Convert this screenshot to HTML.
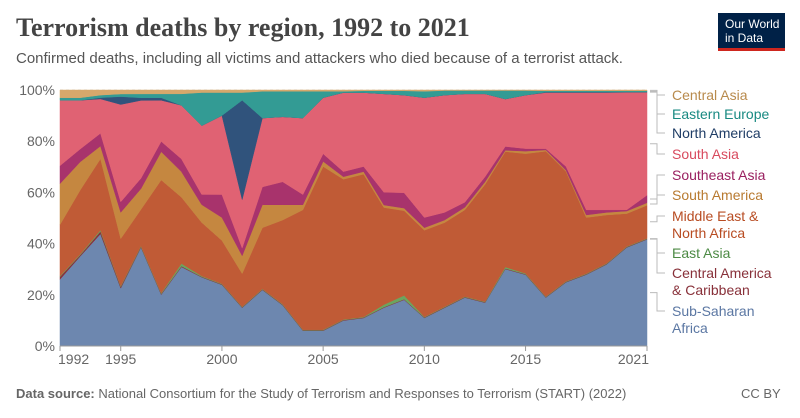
<!DOCTYPE html>
<html><head><meta charset="utf-8"><style>
body{margin:0;background:#fff;font-family:"Liberation Sans",sans-serif;}
#wrap{position:relative;width:800px;height:418px;overflow:hidden;}
.t{position:absolute;white-space:nowrap;}
</style></head><body>
<div id="wrap">
<div class="t" style="left:16px;top:13px;font-family:'Liberation Serif',serif;font-size:26px;font-weight:bold;color:#444;">Terrorism deaths by region, 1992 to 2021</div>
<div class="t" style="left:16px;top:50px;font-size:15px;color:#555;">Confirmed deaths, including all victims and attackers who died because of a terrorist attack.</div>
<div style="position:absolute;left:718px;top:13px;width:67px;height:38px;background:#002147;border-bottom:3px solid #ce261e;box-sizing:border-box;color:#fff;font-size:12px;line-height:14px;padding:4px 0 0 7px;">Our World<br>in Data</div>
<svg id="chart" width="800" height="418" style="position:absolute;left:0;top:0;"></svg>
<div class="t" style="left:16px;top:386px;font-size:13px;color:#666;"><b>Data source:</b> National Consortium for the Study of Terrorism and Responses to Terrorism (START) (2022)</div>
<div class="t" style="left:741px;top:386px;font-size:13px;color:#666;">CC BY</div>
</div>
<script>
const years=[1992,1993,1994,1995,1996,1997,1998,1999,2000,2001,2002,2003,2004,2005,2006,2007,2008,2009,2010,2011,2012,2013,2014,2015,2016,2017,2018,2019,2020,2021];
const subSaharan=[26,35,44,22,38,20,31,27,24,15,22,16,6,6,10,11,15,18,11,15,19,17,30,28,19,25,28,32,39,42];
const centralAmerica=[1,0.5,1,0.5,0.3,0.3,0.3,0.2,0.2,0.2,0.2,0.2,0.2,0.2,0.2,0.2,0.2,0.2,0.2,0.2,0.2,0.2,0.2,0.2,0.2,0.2,0.2,0.2,0.2,0.2];
const eastAsia=[0.3,0.3,0.5,0.3,0.3,0.3,1,0.3,0.2,0.2,0.2,0.2,0.2,0.2,0.2,0.2,1,1.5,0.2,0.2,0.2,0.2,0.6,0.3,0.2,0.2,0.2,0.2,0.2,0.2];
const mena=[20,25,28,18,14,44,26,21,17,13,24,33,47,64,55,56,38,33,34,33,34,46,45,47,57,43,22,19,13,13];
const southAmerica=[16,11,5,10,8,11,10,7,9,7,9,6,2,2,1,1,1,1,1,1,1,1,0.5,1,0.5,0.5,1,1,1,1];
const southeastAsia=[7,5,5,4,4,4,5,4,9,3,7,9,4,3,2,2,5,6,4,3,2,2,1.5,1,0.5,1.5,2,1,0.5,3];
const southAsia=[25.5,19,13.5,37,30,16,21,27,31,19,27,25.5,30,22,31,29,38.5,38,47,46,42.5,32.5,18.5,21,22,29,46,46,46.5,40.5];
const northAmerica=[0,0,0.5,3,1,1,0,0,0,39,0,0,0,0,0,0,0,0,0,0,0,0,0,0,0.2,0.2,0.2,0.2,0.1,0.1];
const easternEurope=[1,1,1,1,1.5,1.5,4.5,13,9,3,10.5,10,10.5,2.5,0.5,0.7,1.2,1.7,2.5,1.8,1.3,1.3,3.3,1.8,0.5,0.5,0.5,0.5,0.5,0.5];
const centralAsia=[3,3,2,1.5,1.5,1.5,1.5,1,1,1,0.5,0.5,0.5,0.5,0.5,0.3,0.3,0.3,0.5,0.2,0.2,0.2,0.2,0.2,0.3,0.3,0.3,0.3,0.3,0.3];
const yTicks=[0,20,40,60,80,100];
const xTicks=[1992,1995,2000,2005,2010,2015,2021];
const series=[
 {name:"Sub-Saharan Africa",v:subSaharan,c:"#6d87af",lab:["Sub-Saharan","Africa"],ly:316,tc:"#5b77a3"},
 {name:"Central America & Caribbean",v:centralAmerica,c:"#8a2f3a",lab:["Central America","& Caribbean"],ly:278,tc:"#883039"},
 {name:"East Asia",v:eastAsia,c:"#6ba55f",lab:["East Asia"],ly:258,tc:"#4c8a44"},
 {name:"Middle East & North Africa",v:mena,c:"#c05b36",lab:["Middle East &","North Africa"],ly:221,tc:"#b84c22"},
 {name:"South America",v:southAmerica,c:"#c58740",lab:["South America"],ly:200,tc:"#b87a30"},
 {name:"Southeast Asia",v:southeastAsia,c:"#a8336c",lab:["Southeast Asia"],ly:180,tc:"#9a2060"},
 {name:"South Asia",v:southAsia,c:"#e06273",lab:["South Asia"],ly:159,tc:"#d84a5e"},
 {name:"North America",v:northAmerica,c:"#30537c",lab:["North America"],ly:138,tc:"#1f3d66"},
 {name:"Eastern Europe",v:easternEurope,c:"#339b94",lab:["Eastern Europe"],ly:119,tc:"#188a82"},
 {name:"Central Asia",v:centralAsia,c:"#d6a86c",lab:["Central Asia"],ly:100,tc:"#b88a4c"}];
const NS="http://www.w3.org/2000/svg";
const svg=document.getElementById('chart');
const x0=60,x1=647,yb=346,yt=90;
const X=y=>x0+(y-years[0])/(years[years.length-1]-years[0])*(x1-x0);
const Y=p=>yb-p/100*(yb-yt);
function mk(t,a){const e=document.createElementNS(NS,t);for(const k in a)e.setAttribute(k,a[k]);svg.appendChild(e);return e;}
const totals=years.map((_,i)=>series.reduce((s,se)=>s+se.v[i],0));
yTicks.forEach(t=>{
 const g=mk('line',{x1:x0,x2:x1,y1:Y(t),y2:Y(t),stroke:'#ddd','stroke-dasharray':'3,3'});
 
 
 const l=mk('text',{x:55,y:Y(t)+5,'text-anchor':'end','font-size':14,fill:'#666','font-family':'Liberation Sans, sans-serif'});
 l.textContent=t+'%';
 
 
});
let base=years.map(()=>0);
series.forEach(se=>{
 const top=base.map((b,i)=>b+se.v[i]/totals[i]*100);
 let d='M'+years.map((y,i)=>X(y)+','+Y(top[i])).join('L');
 for(let i=years.length-1;i>=0;i--)d+='L'+X(years[i])+','+Y(base[i]);
 const p=mk('path',{d:d+'Z',fill:se.c,stroke:se.c,'stroke-width':0.5});
 
 
 const last=years.length-1;
 const my=Y((base[last]+top[last])/2);
 const ln=mk('path',{d:`M650,${my}H657V${se.ly-5}H665`,fill:'none',stroke:'#bbb','stroke-width':1});
 
 
 se.lab.forEach((s,k)=>{
  const t=mk('text',{x:672,y:se.ly+k*17,'font-size':14,fill:se.tc,'font-family':'Liberation Sans, sans-serif'});
  t.textContent=s;
  
  
 });
 base=top;
});
const ax=mk('line',{x1:x0,x2:x1,y1:yb,y2:yb,stroke:'#999'});


xTicks.forEach(y=>{
 const tk=mk('line',{x1:X(y),x2:X(y),y1:yb,y2:yb+5,stroke:'#999'});
 
 
 const t=mk('text',{x:X(y),y:364,'text-anchor':y===1992?'start':(y===2021?'end':'middle'),'font-size':14,fill:'#666','font-family':'Liberation Sans, sans-serif'});
 if(y===1992)t.setAttribute('x',X(y)-2);
 if(y===2021)t.setAttribute('x',X(y)+2);
 t.textContent=y;
 
 
});
</script>
</body></html>
